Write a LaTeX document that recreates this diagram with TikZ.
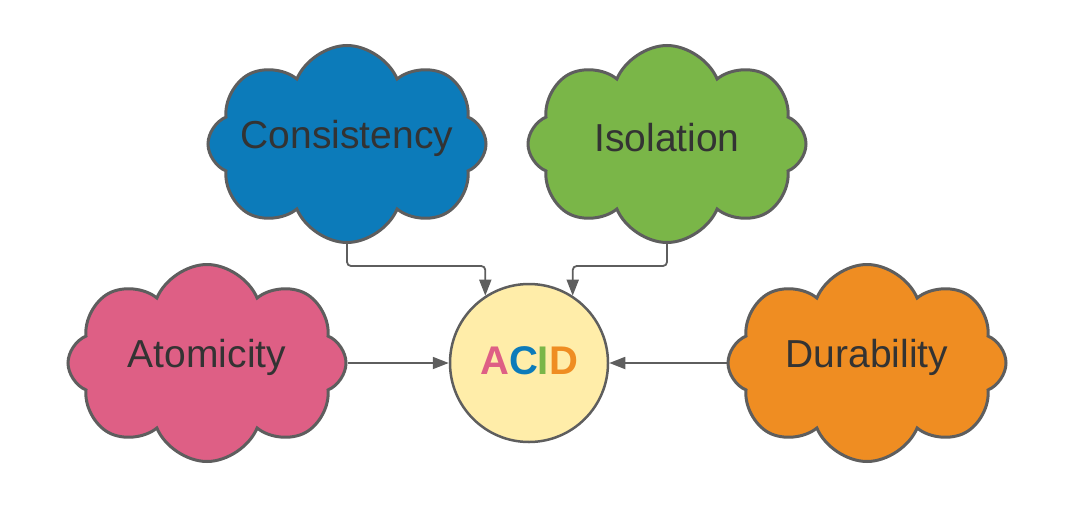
\documentclass[tikz,border=0pt]{standalone}
\usepackage{fontspec}
\setmainfont{Liberation Sans}
\usetikzlibrary{shapes.symbols,arrows.meta}
\definecolor{consblue}{HTML}{0C7BBA}
\definecolor{isogreen}{HTML}{7AB648}
\definecolor{atompink}{HTML}{DE5F85}
\definecolor{duraorange}{HTML}{EF8D22}
\definecolor{acidfill}{HTML}{FFEDA9}
\definecolor{linegray}{HTML}{5E5E5E}
\definecolor{textgray}{HTML}{333333}

\begin{document}
\begin{tikzpicture}[x=1pt,y=-1pt]
\useasboundingbox (0,0) rectangle (1078,506);

\tikzset{puff/.style = {cloud,cloud puffs=8,cloud puff arc=135,aspect=1.4,draw=linegray,line width=3pt,minimum width=278pt,minimum height=197pt,inner sep=0pt,label={[text=textgray,font=\fontsize{39}{47}\selectfont,yshift=6pt]center:#1}}}
\tikzset{edge/.style = {draw=linegray,line width=1.8pt,rounded corners=4pt,-{Triangle[length=16pt,width=12pt]}}}
\node[puff=Consistency,fill=consblue] (cons) at (347,144) {};
\node[puff=Isolation,fill=isogreen] (iso) at (667,144) {};
\node[puff=Atomicity,fill=atompink] (atom) at (207,363) {};
\node[puff=Durability,fill=duraorange] (dura) at (867,363) {};
\node[circle,draw=linegray,line width=2.5pt,fill=acidfill,minimum size=158pt,inner sep=0pt,font=\bfseries\fontsize{40}{48}\selectfont] (acid) at (529,363) {\raisebox{5pt}{\textcolor{atompink}{A}\textcolor{consblue}{C}\textcolor{isogreen}{I}\textcolor{duraorange}{D}}};

%edges
\draw[edge] (cons.south) -- ++(0,22) -| (acid.123);
\draw[edge] (iso.south) -- ++(0,22) -| (acid.57);
\draw[edge] (atom.east) -- (acid.west);
\draw[edge] (dura.west) -- (acid.east);
\end{tikzpicture}
\end{document}
